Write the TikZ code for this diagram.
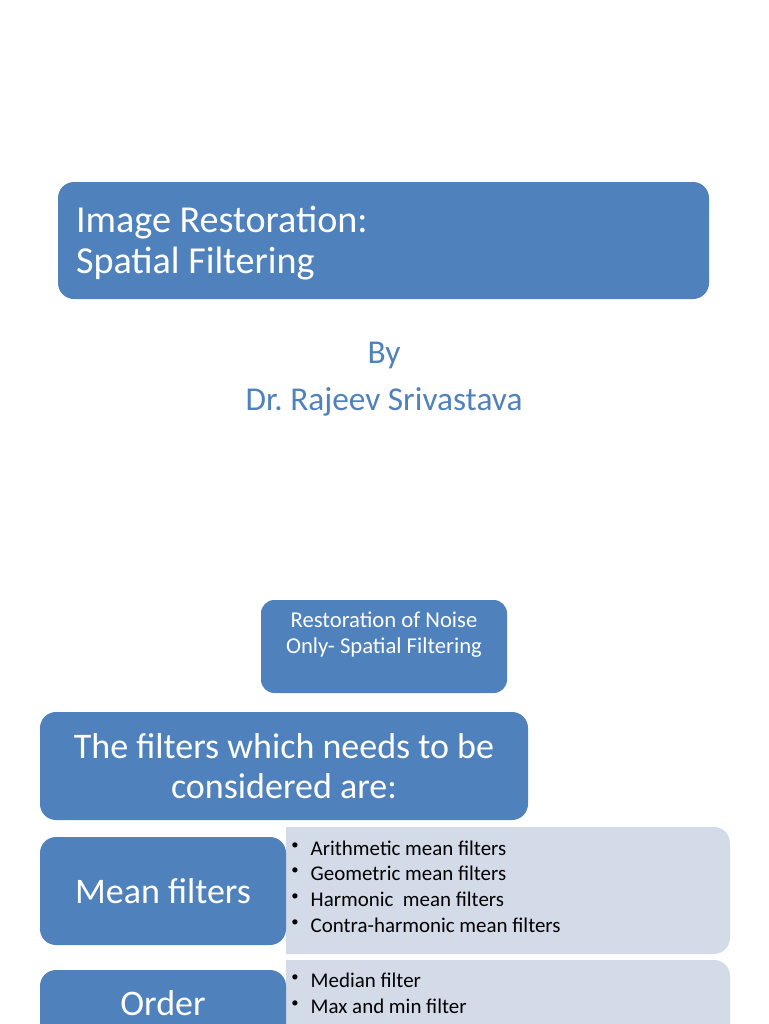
\documentclass[tikz,border=0pt]{standalone}
\usepackage{fontspec}
\setmainfont{Carlito}
\definecolor{slideblue}{HTML}{4F81BD}
\definecolor{listblue}{HTML}{D3DBE8}

\begin{document}
\begin{tikzpicture}[x=0.75pt, y=-0.75pt,
    bluebox/.style={fill=slideblue, rounded corners=12pt, text=white, inner sep=0pt},
    item/.style={anchor=base west, inner sep=0pt, font=\fontsize{15.7}{19.4}\selectfont}]

    \clip (0,0) rectangle (768,1024);

    % title
    \node[bluebox, minimum width=488.25pt, minimum height=87.75pt, text width=461.25pt,
          align=flush left, font=\fontsize{28.6}{30.75}\selectfont] (title) at (383.5,240.5)
          {\rule{0pt}{24pt}Image Restoration:\\Spatial Filtering};

    \node[text=slideblue, anchor=base, font=\fontsize{25}{30}\selectfont] (by) at (384,363) {By};
    \node[text=slideblue, anchor=base, font=\fontsize{25}{30}\selectfont] (author) at (384,410) {\frenchspacing Dr. Rajeev Srivastava};

    % second slide
    \node[bluebox, rounded corners=10pt, minimum width=184.5pt, minimum height=69.75pt] (noise) at (384,646.5) {};
    \node[text=white, anchor=north, align=center, inner sep=0pt,
          font=\fontsize{17}{19.5}\selectfont] (noisetext) at (384,612)
          {Restoration of Noise\\Only- Spatial Filtering};

    \node[bluebox, minimum width=366pt, minimum height=81pt, align=center,
          font=\fontsize{27}{30}\selectfont] (filters) at (284,766)
          {The filters which needs to be\\considered are:};

    % light list panels
    \begin{scope}
        \clip (286,0) rectangle (768,1024);
        \fill[listblue, rounded corners=12pt] (266,827) rectangle (730,954);
        \fill[listblue, rounded corners=12pt] (266,960) rectangle (730,1087);
    \end{scope}

    \node[bluebox, minimum width=184.5pt, minimum height=81pt, font=\fontsize{27}{32}\selectfont] (mean) at (163,891) {Mean filters};

    \node[bluebox, minimum width=184.5pt, minimum height=81pt] (order) at (163,1024) {};
    \node[text=white, anchor=base, font=\fontsize{27}{32}\selectfont] (ordertext) at (163,1015) {Order};

    \foreach \txt [count=\i] in {Arithmetic mean filters, Geometric mean filters, Harmonic~ mean filters, Contra-harmonic mean filters}
        \node[item] (meanitem\i) at (291,855+25.9*\i-25.9)
            {\makebox[14.6pt][l]{\fontsize{11}{11}\selectfont\raisebox{4.5pt}{\textbullet}}\txt};

    \foreach \txt [count=\i] in {Median filter, Max and min filter}
        \node[item] (orderitem\i) at (291,987+26*\i-26)
            {\makebox[14.6pt][l]{\fontsize{11}{11}\selectfont\raisebox{4.5pt}{\textbullet}}\txt};

\end{tikzpicture}
\end{document}
